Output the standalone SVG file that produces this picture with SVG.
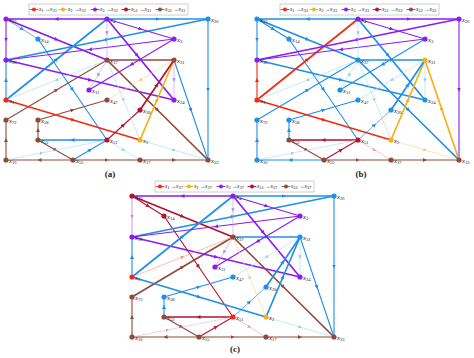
<svg xmlns="http://www.w3.org/2000/svg" width="474" height="358" viewBox="0 0 474 358">
<defs>
<style>
path{fill:none;stroke-linecap:round}
.t{stroke-width:1.7}.m{stroke-width:1.1}.s{stroke-width:0.7}
.R{stroke:#f22a12;marker-mid:url(#mR)}
.O{stroke:#f6b119;marker-mid:url(#mO)}
.P{stroke:#8a1df0;marker-mid:url(#mP)}
.L{stroke:#c7a0f5;marker-mid:url(#mL)}
.D{stroke:#b4122e;marker-mid:url(#mD)}
.N{stroke:#8e4b3b;marker-mid:url(#mN)}
.B{stroke:#1f8fe8;marker-mid:url(#mB)}
.C{stroke:#aee0f2;marker-mid:url(#mC)}
.K{stroke:#f2a6cc;marker-mid:url(#mK)}
.Y{stroke:#f8d99a;marker-mid:url(#mY)}
.S{stroke:#f6a48e;marker-mid:url(#mS)}
.fR{fill:#f22a12}.fO{fill:#f6b119}.fP{fill:#8a1df0}.fD{fill:#b4122e}.fN{fill:#8e4b3b}.fB{fill:#1f8fe8}
text{font-family:"Liberation Serif","DejaVu Serif",serif;fill:#222}
.lb{font-size:6.5px;font-style:italic}
.sb{font-size:4.6px;font-style:normal}
.lg{font-size:5.2px}
.cap{font-size:9px;font-weight:bold}
</style>
<marker id="mR" viewBox="0 0 6 6" refX="3" refY="3" markerWidth="4" markerHeight="4" markerUnits="userSpaceOnUse" orient="auto"><path d="M0,0L6,3L0,6z" style="fill:#f22a12;stroke:none"/></marker>
<marker id="mO" viewBox="0 0 6 6" refX="3" refY="3" markerWidth="4" markerHeight="4" markerUnits="userSpaceOnUse" orient="auto"><path d="M0,0L6,3L0,6z" style="fill:#f6b119;stroke:none"/></marker>
<marker id="mP" viewBox="0 0 6 6" refX="3" refY="3" markerWidth="4" markerHeight="4" markerUnits="userSpaceOnUse" orient="auto"><path d="M0,0L6,3L0,6z" style="fill:#8a1df0;stroke:none"/></marker>
<marker id="mL" viewBox="0 0 6 6" refX="3" refY="3" markerWidth="3.5" markerHeight="3.5" markerUnits="userSpaceOnUse" orient="auto"><path d="M0,0L6,3L0,6z" style="fill:#b585f2;stroke:none"/></marker>
<marker id="mD" viewBox="0 0 6 6" refX="3" refY="3" markerWidth="4" markerHeight="4" markerUnits="userSpaceOnUse" orient="auto"><path d="M0,0L6,3L0,6z" style="fill:#b4122e;stroke:none"/></marker>
<marker id="mN" viewBox="0 0 6 6" refX="3" refY="3" markerWidth="4" markerHeight="4" markerUnits="userSpaceOnUse" orient="auto"><path d="M0,0L6,3L0,6z" style="fill:#8e4b3b;stroke:none"/></marker>
<marker id="mB" viewBox="0 0 6 6" refX="3" refY="3" markerWidth="4" markerHeight="4" markerUnits="userSpaceOnUse" orient="auto"><path d="M0,0L6,3L0,6z" style="fill:#1f8fe8;stroke:none"/></marker>
<marker id="mC" viewBox="0 0 6 6" refX="3" refY="3" markerWidth="3.5" markerHeight="3.5" markerUnits="userSpaceOnUse" orient="auto"><path d="M0,0L6,3L0,6z" style="fill:#8fd0ea;stroke:none"/></marker>
<marker id="mK" viewBox="0 0 6 6" refX="3" refY="3" markerWidth="3.5" markerHeight="3.5" markerUnits="userSpaceOnUse" orient="auto"><path d="M0,0L6,3L0,6z" style="fill:#ee8fbe;stroke:none"/></marker>
<marker id="mY" viewBox="0 0 6 6" refX="3" refY="3" markerWidth="3.5" markerHeight="3.5" markerUnits="userSpaceOnUse" orient="auto"><path d="M0,0L6,3L0,6z" style="fill:#f2c877;stroke:none"/></marker>
<marker id="mS" viewBox="0 0 6 6" refX="3" refY="3" markerWidth="3.5" markerHeight="3.5" markerUnits="userSpaceOnUse" orient="auto"><path d="M0,0L6,3L0,6z" style="fill:#f08f78;stroke:none"/></marker>
</defs>
<rect width="474" height="358" fill="#ffffff"/>

<!-- ================= PANEL A ================= -->
<g id="panel-a">
<g id="edges-a">
<path class="P t" d="M107 19L56.5 19L6 19"/>
<path class="B t" d="M107 19L157.5 19L208 19"/>
<path class="B m" d="M208 19L208 89.5L208 160"/>
<path class="P m" d="M6 19L6 39.5L6 60"/>
<path class="B m" d="M6 100L6 80L6 60"/>
<path class="N m" d="M6 160L6 140L6 120"/>
<path class="N m" d="M6 120L56.5 90L107 60"/>
<path class="B s" d="M6 19L22 29L38 39"/>
<path class="B m" d="M38 39L72.5 89.5L107 140"/>
<path class="P t" d="M6 19L56.5 39.5L107 60"/>
<path class="P t" d="M6 60L90 80L174 100"/>
<path class="B t" d="M6 100L56.5 59.5L107 19"/>
<path class="B t" d="M6 60L107 39.5L208 19"/>
<path class="P m" d="M174 39L90 49.5L6 60"/>
<path class="P m" d="M107 19L140.5 29L174 39"/>
<path class="N t" d="M107 60L140.5 60L174 60"/>
<path class="L s" d="M107 19L107 33L107 60"/>
<path class="P t" d="M107 19L137.2 55.5L174 100"/>
<path class="P m" d="M174 39L131.5 64.5L89 90"/>
<path class="B m" d="M174 60L191 110L208 160"/>
<path class="N t" d="M107 60L157.5 110L208 160"/>
<path class="N m" d="M38 120L72.5 110L107 100"/>
<path class="N m" d="M38 140L38 130L38 120"/>
<path class="N m" d="M38 140L55.5 150L73 160"/>
<path class="B t" d="M107 140L72.5 140L38 140"/>
<path class="B m" d="M73 160L90 150L107 140"/>
<path class="N m" d="M73 160L39.5 160L6 160"/>
<path class="N m" d="M73 160L106.5 160L140 160"/>
<path class="N m" d="M140 160L174 160L208 160"/>
<path class="C s" d="M6 160L41.4 153L107 140"/>
<path class="R t" d="M6 100L73 120L140 140"/>
<path class="O t" d="M140 140L157 100L174 60"/>
<path class="D m" d="M107 140L123.5 125L140 110"/>
<path class="D t" d="M140 110L157 85L174 60"/>
<path class="C s" d="M140 140L174 150L208 160"/>
<path class="C s" d="M107 140L123.5 150L140 160"/>
<path class="C s" d="M107 60L123.5 100L140 140"/>
<path class="C s" d="M107 60L56.5 80L6 100"/>
<path class="L s" d="M174 60L174 80L174 100"/>
<path class="L s" d="M107 60L98 75L89 90"/>
<path class="Y s" d="M174 60L140.5 80L107 100"/>
</g>
<g id="legend-a">
<rect x="29" y="4" width="159" height="11" fill="#fff" stroke="#a0a0a0" stroke-width="0.5"/>
<path d="M30 9.5H38" stroke="#f22a12" stroke-width="0.9"/><circle class="fR" cx="34" cy="9.5" r="2"/>
<text class="lg" x="39" y="11"><tspan font-style="italic">x</tspan><tspan class="sb" dy="1">1</tspan><tspan dy="-1"> →</tspan><tspan font-style="italic">x</tspan><tspan class="sb" dy="1">31</tspan></text>
<path d="M59 9.5H67" stroke="#f6b119" stroke-width="0.9"/><circle class="fO" cx="63" cy="9.5" r="2"/>
<text class="lg" x="68" y="11"><tspan font-style="italic">x</tspan><tspan class="sb" dy="1">2</tspan><tspan dy="-1"> →</tspan><tspan font-style="italic">x</tspan><tspan class="sb" dy="1">31</tspan></text>
<path d="M91 9.5H99" stroke="#8a1df0" stroke-width="0.9"/><circle class="fP" cx="95" cy="9.5" r="2"/>
<text class="lg" x="100" y="11"><tspan font-style="italic">x</tspan><tspan class="sb" dy="1">3</tspan><tspan dy="-1"> →</tspan><tspan font-style="italic">x</tspan><tspan class="sb" dy="1">31</tspan></text>
<path d="M122 9.5H130" stroke="#b4122e" stroke-width="0.9"/><circle class="fD" cx="126" cy="9.5" r="2"/>
<text class="lg" x="131" y="11"><tspan font-style="italic">x</tspan><tspan class="sb" dy="1">51</tspan><tspan dy="-1"> →</tspan><tspan font-style="italic">x</tspan><tspan class="sb" dy="1">31</tspan></text>
<path d="M156 9.5H164" stroke="#8e4b3b" stroke-width="0.9"/><circle class="fN" cx="160" cy="9.5" r="2"/>
<text class="lg" x="165" y="11"><tspan font-style="italic">x</tspan><tspan class="sb" dy="1">52</tspan><tspan dy="-1"> →</tspan><tspan font-style="italic">x</tspan><tspan class="sb" dy="1">31</tspan></text>
</g>
<g id="a-x23"><circle class="fP" cx="6" cy="19" r="2.6"/><text class="lb" x="9" y="21.5">x<tspan class="sb" dy="1.3">23</tspan></text></g>
<g id="a-x4"><circle class="fP" cx="107" cy="19" r="2.6"/><text class="lb" x="110" y="21.5">x<tspan class="sb" dy="1.3">4</tspan></text></g>
<g id="a-x26"><circle class="fB" cx="208" cy="19" r="2.6"/><text class="lb" x="211" y="21.5">x<tspan class="sb" dy="1.3">26</tspan></text></g>
<g id="a-x14"><circle class="fB" cx="38" cy="39" r="2.6"/><text class="lb" x="41" y="41.5">x<tspan class="sb" dy="1.3">14</tspan></text></g>
<g id="a-x3"><circle class="fP" cx="174" cy="39" r="2.6"/><text class="lb" x="177" y="41.5">x<tspan class="sb" dy="1.3">3</tspan></text></g>
<g id="a-x36"><circle class="fP" cx="6" cy="60" r="2.6"/><text class="lb" x="9" y="62.5">x<tspan class="sb" dy="1.3">36</tspan></text></g>
<g id="a-x37"><circle class="fN" cx="107" cy="60" r="2.6"/><text class="lb" x="110" y="62.5">x<tspan class="sb" dy="1.3">37</tspan></text></g>
<g id="a-x31"><circle class="fN" cx="174" cy="60" r="2.6"/><text class="lb" x="177" y="62.5">x<tspan class="sb" dy="1.3">31</tspan></text></g>
<g id="a-x11"><circle class="fP" cx="89" cy="90" r="2.6"/><text class="lb" x="92" y="92.5">x<tspan class="sb" dy="1.3">11</tspan></text></g>
<g id="a-x1"><circle class="fR" cx="6" cy="100" r="2.6"/><text class="lb" x="9" y="102.5">x<tspan class="sb" dy="1.3">1</tspan></text></g>
<g id="a-x47"><circle class="fN" cx="107" cy="100" r="2.6"/><text class="lb" x="110" y="102.5">x<tspan class="sb" dy="1.3">47</tspan></text></g>
<g id="a-x24"><circle class="fP" cx="174" cy="100" r="2.6"/><text class="lb" x="177" y="102.5">x<tspan class="sb" dy="1.3">24</tspan></text></g>
<g id="a-x20"><circle class="fD" cx="140" cy="110" r="2.6"/><text class="lb" x="143" y="112.5">x<tspan class="sb" dy="1.3">20</tspan></text></g>
<g id="a-x72"><circle class="fN" cx="6" cy="120" r="2.6"/><text class="lb" x="9" y="122.5">x<tspan class="sb" dy="1.3">72</tspan></text></g>
<g id="a-x58"><circle class="fN" cx="38" cy="120" r="2.6"/><text class="lb" x="41" y="122.5">x<tspan class="sb" dy="1.3">58</tspan></text></g>
<g id="a-x52"><circle class="fN" cx="38" cy="140" r="2.6"/><text class="lb" x="41" y="142.5">x<tspan class="sb" dy="1.3">52</tspan></text></g>
<g id="a-x51"><circle class="fD" cx="107" cy="140" r="2.6"/><text class="lb" x="110" y="142.5">x<tspan class="sb" dy="1.3">51</tspan></text></g>
<g id="a-x2"><circle class="fO" cx="140" cy="140" r="2.6"/><text class="lb" x="143" y="142.5">x<tspan class="sb" dy="1.3">2</tspan></text></g>
<g id="a-x16"><circle class="fN" cx="6" cy="160" r="2.6"/><text class="lb" x="9" y="162.5">x<tspan class="sb" dy="1.3">16</tspan></text></g>
<g id="a-x55"><circle class="fN" cx="73" cy="160" r="2.6"/><text class="lb" x="76" y="162.5">x<tspan class="sb" dy="1.3">55</tspan></text></g>
<g id="a-x17"><circle class="fN" cx="140" cy="160" r="2.6"/><text class="lb" x="143" y="162.5">x<tspan class="sb" dy="1.3">17</tspan></text></g>
<g id="a-x33"><circle class="fN" cx="208" cy="160" r="2.6"/><text class="lb" x="211" y="162.5">x<tspan class="sb" dy="1.3">33</tspan></text></g>
<text class="cap" x="110" y="177" text-anchor="middle">(a)</text>
</g>

<!-- ================= PANEL B ================= -->
<g id="panel-b" transform="translate(251,0)">
<g id="edges-b">
<path class="B t" d="M107 19L56.5 19L6 19"/>
<path class="P t" d="M107 19L157.5 19L208 19"/>
<path class="P m" d="M208 19L208 89.5L208 160"/>
<path class="B m" d="M6 19L6 39.5L6 60"/>
<path class="R m" d="M6 100L6 80L6 60"/>
<path class="B m" d="M6 160L6 140L6 120"/>
<path class="B m" d="M6 120L56.5 90L107 60"/>
<path class="B m" d="M6 19L22 29L38 39"/>
<path class="B m" d="M38 39L72.5 89.5L107 140"/>
<path class="B t" d="M6 19L56.5 39.5L107 60"/>
<path class="B t" d="M6 60L90 80L174 100"/>
<path class="R t" d="M6 100L56.5 59.5L107 19"/>
<path class="P t" d="M6 60L107 39.5L208 19"/>
<path class="P m" d="M174 39L90 49.5L6 60"/>
<path class="P m" d="M107 19L140.5 29L174 39"/>
<path class="B t" d="M107 60L140.5 60L174 60"/>
<path class="C s" d="M107 19L107 33L107 60"/>
<path class="B t" d="M107 19L137.2 55.5L174 100"/>
<path class="B m" d="M174 39L131.5 64.5L89 90"/>
<path class="O t" d="M174 60L191 110L208 160"/>
<path class="B t" d="M107 60L157.5 110L208 160"/>
<path class="B m" d="M38 120L72.5 110L107 100"/>
<path class="B m" d="M38 140L38 130L38 120"/>
<path class="N m" d="M38 140L55.5 150L73 160"/>
<path class="D t" d="M107 140L72.5 140L38 140"/>
<path class="D m" d="M73 160L90 150L107 140"/>
<path class="B m" d="M73 160L39.5 160L6 160"/>
<path class="N m" d="M73 160L106.5 160L140 160"/>
<path class="N m" d="M140 160L174 160L208 160"/>
<path class="C s" d="M6 160L41.4 153L107 140"/>
<path class="R t" d="M6 100L73 120L140 140"/>
<path class="O t" d="M140 140L157 100L174 60"/>
<path class="B s" d="M107 140L123.5 125L140 110"/>
<path class="B t" d="M140 110L157 85L174 60"/>
<path class="Y s" d="M140 140L174 150L208 160"/>
<path class="K s" d="M107 140L123.5 150L140 160"/>
<path class="C s" d="M107 60L123.5 100L140 140"/>
<path class="C s" d="M107 60L56.5 80L6 100"/>
<path class="C s" d="M174 60L174 80L174 100"/>
<path class="C s" d="M107 60L98 75L89 90"/>
<path class="C s" d="M174 60L140.5 80L107 100"/>
</g>
<g id="legend-b">
<rect x="29" y="4" width="159" height="11" fill="#fff" stroke="#a0a0a0" stroke-width="0.5"/>
<path d="M30 9.5H38" stroke="#f22a12" stroke-width="0.9"/><circle class="fR" cx="34" cy="9.5" r="2"/>
<text class="lg" x="39" y="11"><tspan font-style="italic">x</tspan><tspan class="sb" dy="1">1</tspan><tspan dy="-1"> →</tspan><tspan font-style="italic">x</tspan><tspan class="sb" dy="1">33</tspan></text>
<path d="M59 9.5H67" stroke="#f6b119" stroke-width="0.9"/><circle class="fO" cx="63" cy="9.5" r="2"/>
<text class="lg" x="68" y="11"><tspan font-style="italic">x</tspan><tspan class="sb" dy="1">2</tspan><tspan dy="-1"> →</tspan><tspan font-style="italic">x</tspan><tspan class="sb" dy="1">33</tspan></text>
<path d="M91 9.5H99" stroke="#8a1df0" stroke-width="0.9"/><circle class="fP" cx="95" cy="9.5" r="2"/>
<text class="lg" x="100" y="11"><tspan font-style="italic">x</tspan><tspan class="sb" dy="1">3</tspan><tspan dy="-1"> →</tspan><tspan font-style="italic">x</tspan><tspan class="sb" dy="1">33</tspan></text>
<path d="M122 9.5H130" stroke="#b4122e" stroke-width="0.9"/><circle class="fD" cx="126" cy="9.5" r="2"/>
<text class="lg" x="131" y="11"><tspan font-style="italic">x</tspan><tspan class="sb" dy="1">51</tspan><tspan dy="-1"> →</tspan><tspan font-style="italic">x</tspan><tspan class="sb" dy="1">33</tspan></text>
<path d="M156 9.5H164" stroke="#8e4b3b" stroke-width="0.9"/><circle class="fN" cx="160" cy="9.5" r="2"/>
<text class="lg" x="165" y="11"><tspan font-style="italic">x</tspan><tspan class="sb" dy="1">52</tspan><tspan dy="-1"> →</tspan><tspan font-style="italic">x</tspan><tspan class="sb" dy="1">33</tspan></text>
</g>
<g id="b-x23"><circle class="fB" cx="6" cy="19" r="2.6"/><text class="lb" x="9" y="21.5">x<tspan class="sb" dy="1.3">23</tspan></text></g>
<g id="b-x4"><circle class="fP" cx="107" cy="19" r="2.6"/><text class="lb" x="110" y="21.5">x<tspan class="sb" dy="1.3">4</tspan></text></g>
<g id="b-x26"><circle class="fP" cx="208" cy="19" r="2.6"/><text class="lb" x="211" y="21.5">x<tspan class="sb" dy="1.3">26</tspan></text></g>
<g id="b-x14"><circle class="fB" cx="38" cy="39" r="2.6"/><text class="lb" x="41" y="41.5">x<tspan class="sb" dy="1.3">14</tspan></text></g>
<g id="b-x3"><circle class="fP" cx="174" cy="39" r="2.6"/><text class="lb" x="177" y="41.5">x<tspan class="sb" dy="1.3">3</tspan></text></g>
<g id="b-x36"><circle class="fP" cx="6" cy="60" r="2.6"/><text class="lb" x="9" y="62.5">x<tspan class="sb" dy="1.3">36</tspan></text></g>
<g id="b-x37"><circle class="fB" cx="107" cy="60" r="2.6"/><text class="lb" x="110" y="62.5">x<tspan class="sb" dy="1.3">37</tspan></text></g>
<g id="b-x31"><circle class="fO" cx="174" cy="60" r="2.6"/><text class="lb" x="177" y="62.5">x<tspan class="sb" dy="1.3">31</tspan></text></g>
<g id="b-x11"><circle class="fB" cx="89" cy="90" r="2.6"/><text class="lb" x="92" y="92.5">x<tspan class="sb" dy="1.3">11</tspan></text></g>
<g id="b-x1"><circle class="fR" cx="6" cy="100" r="2.6"/><text class="lb" x="9" y="102.5">x<tspan class="sb" dy="1.3">1</tspan></text></g>
<g id="b-x47"><circle class="fB" cx="107" cy="100" r="2.6"/><text class="lb" x="110" y="102.5">x<tspan class="sb" dy="1.3">47</tspan></text></g>
<g id="b-x24"><circle class="fB" cx="174" cy="100" r="2.6"/><text class="lb" x="177" y="102.5">x<tspan class="sb" dy="1.3">24</tspan></text></g>
<g id="b-x20"><circle class="fB" cx="140" cy="110" r="2.6"/><text class="lb" x="143" y="112.5">x<tspan class="sb" dy="1.3">20</tspan></text></g>
<g id="b-x72"><circle class="fB" cx="6" cy="120" r="2.6"/><text class="lb" x="9" y="122.5">x<tspan class="sb" dy="1.3">72</tspan></text></g>
<g id="b-x58"><circle class="fB" cx="38" cy="120" r="2.6"/><text class="lb" x="41" y="122.5">x<tspan class="sb" dy="1.3">58</tspan></text></g>
<g id="b-x52"><circle class="fN" cx="38" cy="140" r="2.6"/><text class="lb" x="41" y="142.5">x<tspan class="sb" dy="1.3">52</tspan></text></g>
<g id="b-x51"><circle class="fD" cx="107" cy="140" r="2.6"/><text class="lb" x="110" y="142.5">x<tspan class="sb" dy="1.3">51</tspan></text></g>
<g id="b-x2"><circle class="fO" cx="140" cy="140" r="2.6"/><text class="lb" x="143" y="142.5">x<tspan class="sb" dy="1.3">2</tspan></text></g>
<g id="b-x16"><circle class="fB" cx="6" cy="160" r="2.6"/><text class="lb" x="9" y="162.5">x<tspan class="sb" dy="1.3">16</tspan></text></g>
<g id="b-x55"><circle class="fN" cx="73" cy="160" r="2.6"/><text class="lb" x="76" y="162.5">x<tspan class="sb" dy="1.3">55</tspan></text></g>
<g id="b-x17"><circle class="fN" cx="140" cy="160" r="2.6"/><text class="lb" x="143" y="162.5">x<tspan class="sb" dy="1.3">17</tspan></text></g>
<g id="b-x33"><circle class="fN" cx="208" cy="160" r="2.6"/><text class="lb" x="211" y="162.5">x<tspan class="sb" dy="1.3">33</tspan></text></g>
<text class="cap" x="110" y="177" text-anchor="middle">(b)</text>
</g>

<!-- ================= PANEL C ================= -->
<g id="panel-c" transform="translate(126,177)">
<g id="edges-c">
<path class="P t" d="M107 19L56.5 19L6 19"/>
<path class="B t" d="M107 19L157.5 19L208 19"/>
<path class="B m" d="M208 19L208 89.5L208 160"/>
<path class="L m" d="M6 19L6 39.5L6 60"/>
<path class="B m" d="M6 100L6 80L6 60"/>
<path class="N m" d="M6 160L6 140L6 120"/>
<path class="N t" d="M6 120L56.5 90L107 60"/>
<path class="D m" d="M6 19L22 29L38 39"/>
<path class="D m" d="M38 39L72.5 89.5L107 140"/>
<path class="D t" d="M6 19L56.5 39.5L107 60"/>
<path class="P t" d="M6 60L90 80L174 100"/>
<path class="B t" d="M6 100L56.5 59.5L107 19"/>
<path class="B t" d="M6 60L107 39.5L208 19"/>
<path class="P m" d="M174 39L90 49.5L6 60"/>
<path class="P m" d="M107 19L140.5 29L174 39"/>
<path class="B t" d="M107 60L140.5 60L174 60"/>
<path class="L s" d="M107 19L107 33L107 60"/>
<path class="P t" d="M107 19L137.2 55.5L174 100"/>
<path class="P m" d="M174 39L131.5 64.5L89 90"/>
<path class="B m" d="M174 60L191 110L208 160"/>
<path class="N t" d="M107 60L157.5 110L208 160"/>
<path class="B m" d="M38 120L72.5 110L107 100"/>
<path class="B m" d="M38 140L38 130L38 120"/>
<path class="N m" d="M38 140L55.5 150L73 160"/>
<path class="D t" d="M107 140L72.5 140L38 140"/>
<path class="D m" d="M73 160L90 150L107 140"/>
<path class="N m" d="M73 160L39.5 160L6 160"/>
<path class="N m" d="M73 160L106.5 160L140 160"/>
<path class="N m" d="M140 160L174 160L208 160"/>
<path class="K s" d="M6 160L41.4 153L107 140" stroke-dasharray="2 1.5"/>
<path class="B t" d="M6 100L73 120L140 140"/>
<path class="B t" d="M140 140L157 100L174 60"/>
<path class="B s" d="M107 140L123.5 125L140 110"/>
<path class="B t" d="M140 110L157 85L174 60"/>
<path class="C s" d="M140 140L174 150L208 160"/>
<path class="K s" d="M107 140L123.5 150L140 160"/>
<path class="Y s" d="M140 140L123.5 100L107 60"/>
<path class="S s" d="M6 100L56.5 80L107 60"/>
<path class="C s" d="M174 60L174 80L174 100"/>
<path class="L s" d="M107 60L98 75L89 90"/>
<path class="C s" d="M174 60L140.5 80L107 100"/>
</g>
<g id="legend-c">
<rect x="29" y="4" width="159" height="11" fill="#fff" stroke="#a0a0a0" stroke-width="0.5"/>
<path d="M30 9.5H38" stroke="#f22a12" stroke-width="0.9"/><circle class="fR" cx="34" cy="9.5" r="2"/>
<text class="lg" x="39" y="11"><tspan font-style="italic">x</tspan><tspan class="sb" dy="1">1</tspan><tspan dy="-1"> →</tspan><tspan font-style="italic">x</tspan><tspan class="sb" dy="1">37</tspan></text>
<path d="M59 9.5H67" stroke="#f6b119" stroke-width="0.9"/><circle class="fO" cx="63" cy="9.5" r="2"/>
<text class="lg" x="68" y="11"><tspan font-style="italic">x</tspan><tspan class="sb" dy="1">2</tspan><tspan dy="-1"> →</tspan><tspan font-style="italic">x</tspan><tspan class="sb" dy="1">37</tspan></text>
<path d="M91 9.5H99" stroke="#8a1df0" stroke-width="0.9"/><circle class="fP" cx="95" cy="9.5" r="2"/>
<text class="lg" x="100" y="11"><tspan font-style="italic">x</tspan><tspan class="sb" dy="1">3</tspan><tspan dy="-1"> →</tspan><tspan font-style="italic">x</tspan><tspan class="sb" dy="1">37</tspan></text>
<path d="M122 9.5H130" stroke="#b4122e" stroke-width="0.9"/><circle class="fD" cx="126" cy="9.5" r="2"/>
<text class="lg" x="131" y="11"><tspan font-style="italic">x</tspan><tspan class="sb" dy="1">51</tspan><tspan dy="-1"> →</tspan><tspan font-style="italic">x</tspan><tspan class="sb" dy="1">37</tspan></text>
<path d="M156 9.5H164" stroke="#8e4b3b" stroke-width="0.9"/><circle class="fN" cx="160" cy="9.5" r="2"/>
<text class="lg" x="165" y="11"><tspan font-style="italic">x</tspan><tspan class="sb" dy="1">52</tspan><tspan dy="-1"> →</tspan><tspan font-style="italic">x</tspan><tspan class="sb" dy="1">37</tspan></text>
</g>
<g id="c-x23"><circle class="fD" cx="6" cy="19" r="2.6"/><text class="lb" x="9" y="21.5">x<tspan class="sb" dy="1.3">23</tspan></text></g>
<g id="c-x4"><circle class="fP" cx="107" cy="19" r="2.6"/><text class="lb" x="110" y="21.5">x<tspan class="sb" dy="1.3">4</tspan></text></g>
<g id="c-x26"><circle class="fB" cx="208" cy="19" r="2.6"/><text class="lb" x="211" y="21.5">x<tspan class="sb" dy="1.3">26</tspan></text></g>
<g id="c-x14"><circle class="fD" cx="38" cy="39" r="2.6"/><text class="lb" x="41" y="41.5">x<tspan class="sb" dy="1.3">14</tspan></text></g>
<g id="c-x3"><circle class="fP" cx="174" cy="39" r="2.6"/><text class="lb" x="177" y="41.5">x<tspan class="sb" dy="1.3">3</tspan></text></g>
<g id="c-x36"><circle class="fP" cx="6" cy="60" r="2.6"/><text class="lb" x="9" y="62.5">x<tspan class="sb" dy="1.3">36</tspan></text></g>
<g id="c-x37"><circle class="fN" cx="107" cy="60" r="2.6"/><text class="lb" x="110" y="62.5">x<tspan class="sb" dy="1.3">37</tspan></text></g>
<g id="c-x31"><circle class="fB" cx="174" cy="60" r="2.6"/><text class="lb" x="177" y="62.5">x<tspan class="sb" dy="1.3">31</tspan></text></g>
<g id="c-x11"><circle class="fP" cx="89" cy="90" r="2.6"/><text class="lb" x="92" y="92.5">x<tspan class="sb" dy="1.3">11</tspan></text></g>
<g id="c-x1"><circle class="fR" cx="6" cy="100" r="2.6"/><text class="lb" x="9" y="102.5">x<tspan class="sb" dy="1.3">1</tspan></text></g>
<g id="c-x47"><circle class="fB" cx="107" cy="100" r="2.6"/><text class="lb" x="110" y="102.5">x<tspan class="sb" dy="1.3">47</tspan></text></g>
<g id="c-x24"><circle class="fP" cx="174" cy="100" r="2.6"/><text class="lb" x="177" y="102.5">x<tspan class="sb" dy="1.3">24</tspan></text></g>
<g id="c-x20"><circle class="fB" cx="140" cy="110" r="2.6"/><text class="lb" x="143" y="112.5">x<tspan class="sb" dy="1.3">20</tspan></text></g>
<g id="c-x72"><circle class="fN" cx="6" cy="120" r="2.6"/><text class="lb" x="9" y="122.5">x<tspan class="sb" dy="1.3">72</tspan></text></g>
<g id="c-x58"><circle class="fB" cx="38" cy="120" r="2.6"/><text class="lb" x="41" y="122.5">x<tspan class="sb" dy="1.3">58</tspan></text></g>
<g id="c-x52"><circle class="fN" cx="38" cy="140" r="2.6"/><text class="lb" x="41" y="142.5">x<tspan class="sb" dy="1.3">52</tspan></text></g>
<g id="c-x51"><circle class="fR" cx="107" cy="140" r="2.6"/><text class="lb" x="110" y="142.5">x<tspan class="sb" dy="1.3">51</tspan></text></g>
<g id="c-x2"><circle class="fO" cx="140" cy="140" r="2.6"/><text class="lb" x="143" y="142.5">x<tspan class="sb" dy="1.3">2</tspan></text></g>
<g id="c-x16"><circle class="fN" cx="6" cy="160" r="2.6"/><text class="lb" x="9" y="162.5">x<tspan class="sb" dy="1.3">16</tspan></text></g>
<g id="c-x55"><circle class="fN" cx="73" cy="160" r="2.6"/><text class="lb" x="76" y="162.5">x<tspan class="sb" dy="1.3">55</tspan></text></g>
<g id="c-x17"><circle class="fN" cx="140" cy="160" r="2.6"/><text class="lb" x="143" y="162.5">x<tspan class="sb" dy="1.3">17</tspan></text></g>
<g id="c-x33"><circle class="fN" cx="208" cy="160" r="2.6"/><text class="lb" x="211" y="162.5">x<tspan class="sb" dy="1.3">33</tspan></text></g>
<text class="cap" x="109" y="175" text-anchor="middle">(c)</text>
</g>
</svg>
